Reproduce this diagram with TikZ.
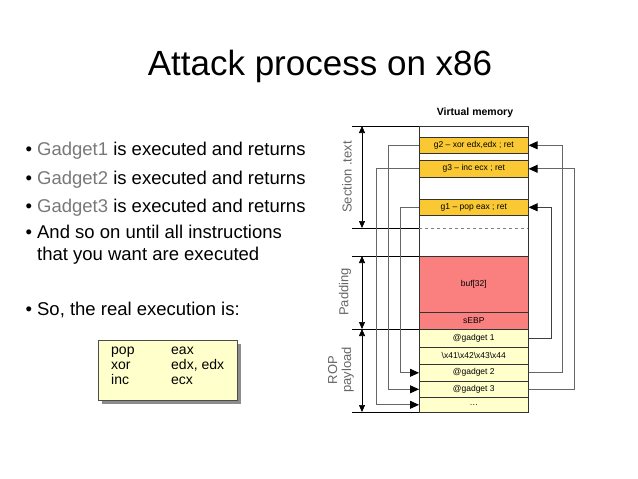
\documentclass[tikz,border=0pt]{standalone}
\usepackage{fontspec}
\setmainfont{Liberation Sans}
\usetikzlibrary{arrows.meta}
\definecolor{gold}{RGB}{250,200,50}
\definecolor{bufred}{RGB}{250,128,128}
\definecolor{pale}{RGB}{255,255,204}
\definecolor{gtxt}{RGB}{120,120,120}
\begin{document}
\begin{tikzpicture}[x=1pt,y=-1pt,
  cell/.style={draw=black!80,line width=0.6pt,minimum width=109pt,anchor=north west,inner sep=0pt,font=\fontsize{8.5}{9}\selectfont},
  bul/.style={anchor=west,font=\fontsize{18.5}{22}\selectfont,align=left},
  conn/.style={draw=black!60,line width=0.8pt},
  arr/.style={conn,-{Triangle[length=9pt,width=8pt,fill=black,color=black]}},
  dim/.style={draw=black,line width=0.6pt,{Triangle[length=7pt,width=6pt]}-{Triangle[length=7pt,width=6pt]}},
  lab/.style={rotate=90,font=\fontsize{13}{14}\selectfont,text=black!60,align=center}]
\useasboundingbox (0,0) rectangle (638,479);
\node (title) at (320,66) {\fontsize{35}{40}\selectfont Attack process on x86};
\node[bul] (b1) at (22,151) {\textbullet\ \textcolor{gtxt}{Gadget1} is executed and returns};
\node[bul] (b2) at (22,180) {\textbullet\ \textcolor{gtxt}{Gadget2} is executed and returns};
\node[bul] (b3) at (22,208) {\textbullet\ \textcolor{gtxt}{Gadget3} is executed and returns};
\node[bul] (b4) at (22,245) {\textbullet\ And so on until all instructions\\\phantom{\textbullet\ }that you want are executed};
\node[bul] (b5) at (22,310) {\textbullet\ So, the real execution is:};
\fill[black!45] (102,344) rectangle (241,404);
\node[draw=black!70,fill=pale,anchor=north west,minimum width=139pt,minimum height=60pt,inner sep=0pt] (code) at (98,340) {};
\node[anchor=north west,font=\fontsize{14}{15}\selectfont,align=left,inner sep=0pt] (ctext) at (111,347) {pop\\xor\\inc};
\node[anchor=north west,font=\fontsize{14}{15}\selectfont,align=left,inner sep=0pt] (ctext2) at (171,347) {eax\\edx, edx\\ecx};
% memory
\node[font=\bfseries\fontsize{10.5}{12}\selectfont] (vm) at (475,113) {Virtual memory};
\draw[black!80,line width=0.6pt] (419,126) rectangle (528,412);
\node[cell,fill=gold,minimum height=16pt] (g2) at (419,137) {g2 -- xor edx,edx ; ret};
\node[cell,fill=gold,minimum height=17pt] (g3) at (419,160) {g3 -- inc ecx ; ret};
\node[cell,fill=gold,minimum height=16pt] (g1) at (419,199) {g1 -- pop eax ; ret};
\draw[black!50,dashed] (419,228) -- (528,228);
\node[cell,fill=bufred,minimum height=56pt] (buf) at (419,256) {buf[32]};
\node[cell,fill=bufred,minimum height=17pt] (sebp) at (419,312) {sEBP};
\node[cell,fill=pale,minimum height=18pt] (a1) at (419,329) {@gadget 1};
\node[cell,fill=pale,minimum height=17pt] (x41) at (419,347) {\textbackslash x41\textbackslash x42\textbackslash x43\textbackslash x44};
\node[cell,fill=pale,minimum height=17pt] (a2) at (419,364) {@gadget 2};
\node[cell,fill=pale,minimum height=16pt] (a3) at (419,381) {@gadget 3};
\node[cell,fill=pale,minimum height=15pt] (dots) at (419,397) {\dots};
% side lines and dims
\draw[black,line width=0.6pt] (352,126) -- (419,126) (352,228) -- (419,228) (352,256) -- (419,256) (352,329) -- (419,329) (352,412) -- (419,412);
\draw[dim] (362,126) -- (362,228);
\draw[dim] (362,256) -- (362,329);
\draw[dim] (362,329) -- (362,412);
\node[lab] (l1) at (347,177) {Section .text};
\node[lab] (l2) at (345,292) {Padding};
\node[lab] (l3) at (341,370) {ROP\\payload};
% left connectors
\coordinate (c1) at (388,0); \coordinate (c2) at (376,0); \coordinate (c3) at (400,0);
\draw[arr] (g2.west) -| (c1 |- a3.west) -- (a3.west);
\draw[arr] (g3.west) -| (c2 |- dots.west) -- (dots.west);
\draw[arr] (g1.west) -| (c3 |- a2.west) -- (a2.west);
% right connectors
\coordinate (r1) at (551,0); \coordinate (r2) at (562,0); \coordinate (r3) at (574,0);
\draw[arr,draw=black!75] (a1.east) -| (r1 |- g1.east) -- (g1.east);
\draw[arr] (a2.east) -| (r2 |- g2.east) -- (g2.east);
\draw[arr] (a3.east) -| (r3 |- g3.east) -- (g3.east);
\end{tikzpicture}
\end{document}
